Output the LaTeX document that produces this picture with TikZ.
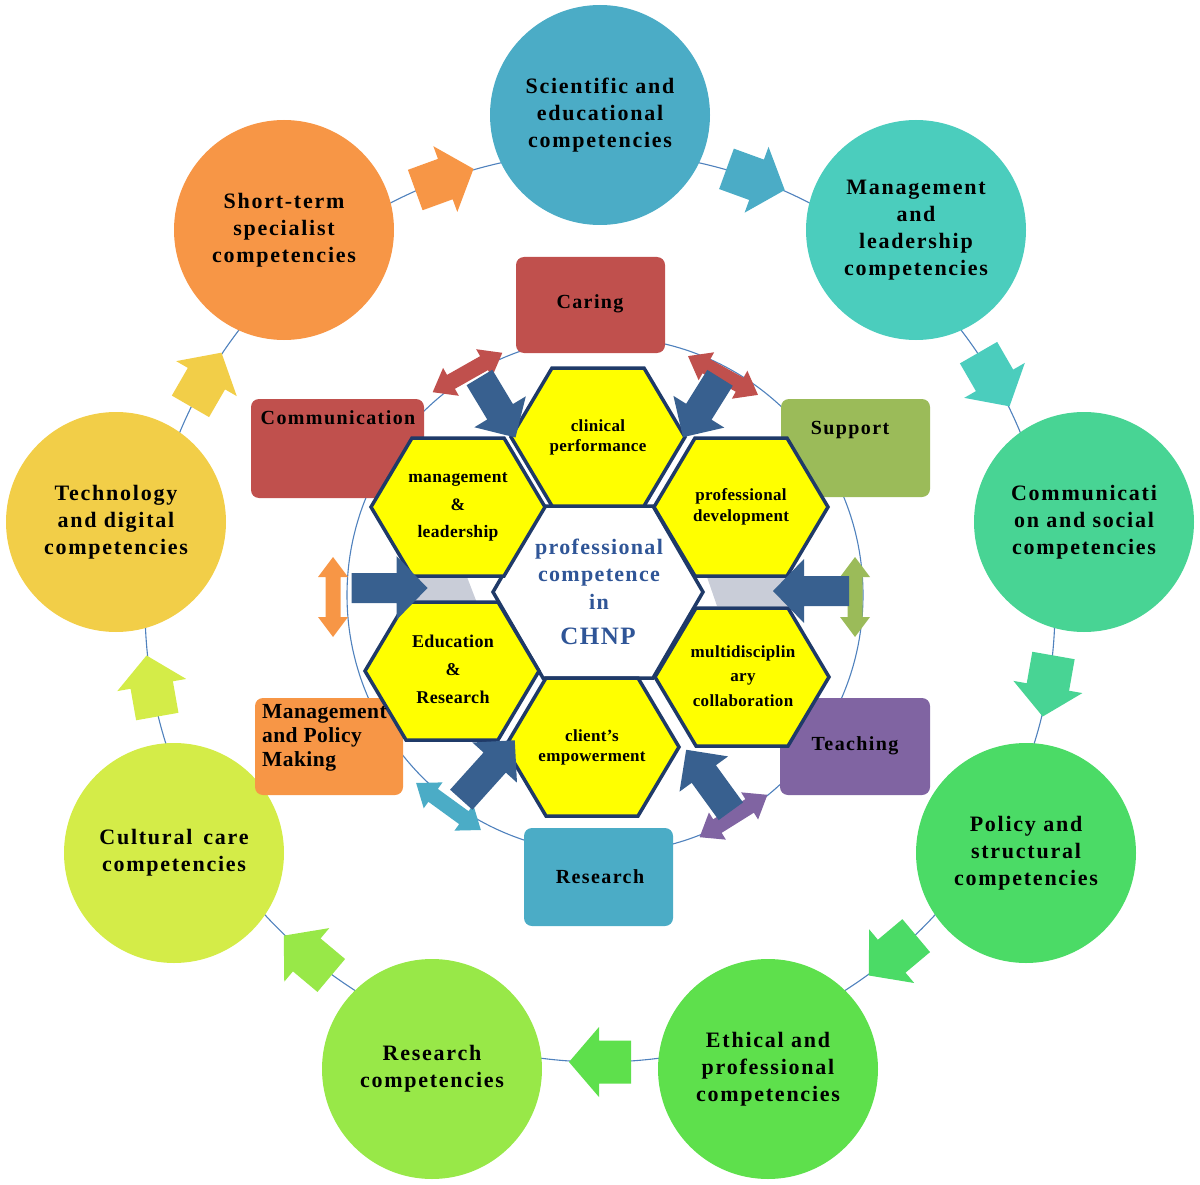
\documentclass[tikz,border=0pt]{standalone}
\usepackage{fontspec}
\setmainfont{Liberation Serif}
\newfontfamily\circfont[LetterSpace=8]{Liberation Serif}
\newfontfamily\centfont[LetterSpace=6]{Liberation Serif}
\newfontfamily\hexfont[LetterSpace=2]{Liberation Serif}
\newfontfamily\boxfont[LetterSpace=7]{Liberation Serif}
\newfontfamily\mpfont[LetterSpace=2]{Liberation Serif}

\definecolor{csci}{HTML}{4BACC6}
\definecolor{cmgmt}{HTML}{4BCDBD}
\definecolor{ccomm}{HTML}{48D494}
\definecolor{cpolicy}{HTML}{4BDB66}
\definecolor{cethical}{HTML}{5EE04C}
\definecolor{cresearch}{HTML}{98E848}
\definecolor{ccultural}{HTML}{D4EC48}
\definecolor{ctech}{HTML}{F2CE48}
\definecolor{cshort}{HTML}{F79646}
\definecolor{bred}{HTML}{C0504D}
\definecolor{bgreen}{HTML}{9BBB59}
\definecolor{bpurple}{HTML}{8064A2}
\definecolor{bteal}{HTML}{4BACC6}
\definecolor{borange}{HTML}{F79646}
\definecolor{hexyellow}{HTML}{FFFF00}
\definecolor{hexborder}{HTML}{1F3A68}
\definecolor{centtext}{HTML}{2F5597}
\definecolor{bluearr}{HTML}{38608F}
\definecolor{patchgray}{HTML}{C9CDD8}
\definecolor{ringcol}{HTML}{4F81BD}

% #1 colour, #2 x, #3 y, #4 angle, #5 length, #6 shaft width, #7 head width, #8 head length
\newcommand{\BlockArr}[8]{%
  \fill[fill=#1, shift={({#2},{#3})}, rotate={#4}]
    ({-(#5)/2},{-(#6)/2}) -- ({(#5)/2-(#8)},{-(#6)/2}) -- ({(#5)/2-(#8)},{-(#7)/2})
    -- ({(#5)/2},0) -- ({(#5)/2-(#8)},{(#7)/2}) -- ({(#5)/2-(#8)},{(#6)/2})
    -- ({-(#5)/2},{(#6)/2}) -- cycle;}
\newcommand{\DblArr}[8]{%
  \fill[fill=#1, shift={({#2},{#3})}, rotate={#4}]
    ({-(#5)/2},0) -- ({-(#5)/2+(#8)},{-(#7)/2}) -- ({-(#5)/2+(#8)},{-(#6)/2})
    -- ({(#5)/2-(#8)},{-(#6)/2}) -- ({(#5)/2-(#8)},{-(#7)/2}) -- ({(#5)/2},0)
    -- ({(#5)/2-(#8)},{(#7)/2}) -- ({(#5)/2-(#8)},{(#6)/2})
    -- ({-(#5)/2+(#8)},{(#6)/2}) -- ({-(#5)/2+(#8)},{(#7)/2}) -- cycle;}
% #1 style, #2 x, #3 y, #4 half width, #5 half height, #6 half top edge
\newcommand{\Hexa}[6]{%
  \filldraw[#1] ({#2-(#4)},{#3}) -- ({#2-(#6)},{#3-(#5)}) -- ({#2+(#6)},{#3-(#5)})
    -- ({#2+(#4)},{#3}) -- ({#2+(#6)},{#3+(#5)}) -- ({#2-(#6)},{#3+(#5)}) -- cycle;}

\begin{document}
\begin{tikzpicture}[x=1pt,y=-1pt,
  circ/.style={circle, minimum size=220pt, inner sep=0pt, align=center,
    font=\circfont\bfseries\fontsize{22}{27}\selectfont},
  ibox/.style={rectangle, rounded corners=8pt, inner sep=0pt},
  boxtext/.style={inner sep=0pt, font=\boxfont\bfseries\fontsize{20}{24}\selectfont},
  hexstyle/.style={fill=hexyellow, draw=hexborder, line width=3.5pt},
  centhex/.style={fill=white, draw=hexborder, line width=3.5pt},
  hextext/.style={inner sep=0pt, align=center, font=\hexfont\bfseries\fontsize{17}{20}\selectfont},
  centtxt/.style={inner sep=0pt, align=center, text=centtext,
    font=\centfont\bfseries\fontsize{22}{27.5}\selectfont},
  ring/.style={draw=ringcol, line width=1.1pt}
]
\useasboundingbox (0,0) rectangle (1200,1185);

% outer ring
\draw[ring] (600,607) circle [radius=455];

% outer circles
\node[circ, fill=csci]      (sci)   at (600,115)  {Scientific and\\educational\\competencies};
\node[circ, fill=cmgmt]     (mgmt)  at (916,230)  {Management\\and\\leadership\\competencies};
\node[circ, fill=ccomm]     (comm)  at (1084,522) {Communicati\\on and social\\competencies};
\node[circ, fill=cpolicy]   (pol)   at (1026,853) {Policy and\\structural\\competencies};
\node[circ, fill=cethical]  (eth)   at (768,1069) {Ethical and\\professional\\competencies};
\node[circ, fill=cresearch] (res)   at (432,1069) {Research\\competencies};
\node[circ, fill=ccultural] (cult)  at (174,853)  {Cultural\enspace care\\competencies};
\node[circ, fill=ctech]     (tech)  at (116,522)  {Technology\\and digital\\competencies};
\node[circ, fill=cshort]    (short) at (284,230)  {Short-term\\specialist\\competencies};

% outer arrows
\foreach \a/\col in {110/cshort, 70/csci, 30/cmgmt, -10/ccomm, -50/cpolicy,
                     -90/cethical, -130/cresearch, -170/ccultural, 150/ctech}{
  \BlockArr{\col}{600+455*cos(\a)}{607-455*sin(\a)}{\a-90}{62}{43}{70}{30}
}

% inner ring
\draw[ring] (605,595) circle [radius=258];

% inner boxes
\node[ibox, fill=bred, minimum width=149pt, minimum height=96pt] (caring) at (590.5,305) {};
\node[boxtext] (caringT) at (590,304) {Caring};
\node[ibox, fill=bred, minimum width=173pt, minimum height=99pt] (commb) at (337.5,448.5) {};
\node[boxtext] (commT) at (338,418) {Communication};
\node[ibox, fill=bgreen, minimum width=149pt, minimum height=98pt] (support) at (855.5,448) {};
\node[boxtext] (supportT) at (850,430) {Support};
\node[ibox, fill=bpurple, minimum width=150pt, minimum height=97pt] (teach) at (855,746.5) {};
\node[boxtext] (teachT) at (855,746) {Teaching};
\node[ibox, fill=bteal, minimum width=149pt, minimum height=98pt] (resb) at (598.5,877) {};
\node[boxtext] (resT) at (600,877) {Research};
\node[ibox, fill=borange, minimum width=148pt, minimum height=97pt] (mpm) at (329,746.5) {};

% double arrows
\DblArr{bred}{467.5}{372.5}{29.5}{80}{16}{32}{21}
\DblArr{bred}{723}{375.5}{-29}{80}{16}{32}{21}
\DblArr{bgreen}{855}{597}{90}{80}{15}{30}{20}
\DblArr{borange}{333}{597}{90}{80}{15}{30}{20}
\DblArr{bteal}{448.5}{806.5}{-36}{80}{16}{32}{21}
\DblArr{bpurple}{733.5}{816}{32}{80}{16}{32}{21}

% gray patches between hexagons
\fill[patchgray] (405,577) -- (467,577) -- (477,603) -- (405,603) -- cycle;
\fill[patchgray] (707,577) -- (795,577) -- (795,606) -- (717,606) -- cycle;

% hexagons
\Hexa{centhex}{598}{592}{105}{86}{55}
\Hexa{hexstyle}{598}{437}{87}{69}{46}
\Hexa{hexstyle}{458}{507}{87}{69}{46}
\Hexa{hexstyle}{741}{507}{87}{69}{46}
\Hexa{hexstyle}{452}{671}{87}{69}{46}
\Hexa{hexstyle}{742}{677}{87}{69}{46}
\Hexa{hexstyle}{592}{747}{87}{69}{46}

% hexagon texts
\node[hextext] (hclin) at (598,437) {clinical\\performance};
\node[hextext, font=\hexfont\bfseries\fontsize{17.5}{27.5}\selectfont] (hml) at (458,507) {management\\\&\\leadership};
\node[hextext, font=\hexfont\bfseries\fontsize{17}{21}\selectfont] (hpd) at (741,507) {professional\\development};
\node[hextext, font=\hexfont\bfseries\fontsize{18}{28}\selectfont] (her) at (453,669) {Education\\\&\\Research};
\node[hextext, font=\hexfont\bfseries\fontsize{17}{24.5}\selectfont] (hmc) at (743,676) {multidisciplin\\ary\\collaboration};
\node[hextext] (hce) at (592,747) {client’s\\empowerment};
\node[centtxt] (cent) at (599,574) {professional\\competence\\in};
\node[centtxt, font=\centfont\bfseries\fontsize{25}{30}\selectfont] (chnp) at (598,636) {CHNP};

% management and policy making text
\node[inner sep=0pt, anchor=north west, align=left,
  font=\mpfont\bfseries\fontsize{21.5}{24}\selectfont] (mpmT) at (262,704) {Management\\and Policy\\Making};

% blue inward arrows
\BlockArr{bluearr}{497.5}{407.5}{-59}{70}{30}{60}{30}
\BlockArr{bluearr}{701.5}{407.5}{-122}{70}{30}{60}{30}
\BlockArr{bluearr}{389.5}{588}{0}{76}{30}{64}{31}
\BlockArr{bluearr}{811}{591}{180}{76}{30}{64}{31}
\BlockArr{bluearr}{488}{770}{48}{80}{30}{60}{30}
\BlockArr{bluearr}{708.5}{780.5}{126}{76}{30}{60}{30}
\end{tikzpicture}
\end{document}
